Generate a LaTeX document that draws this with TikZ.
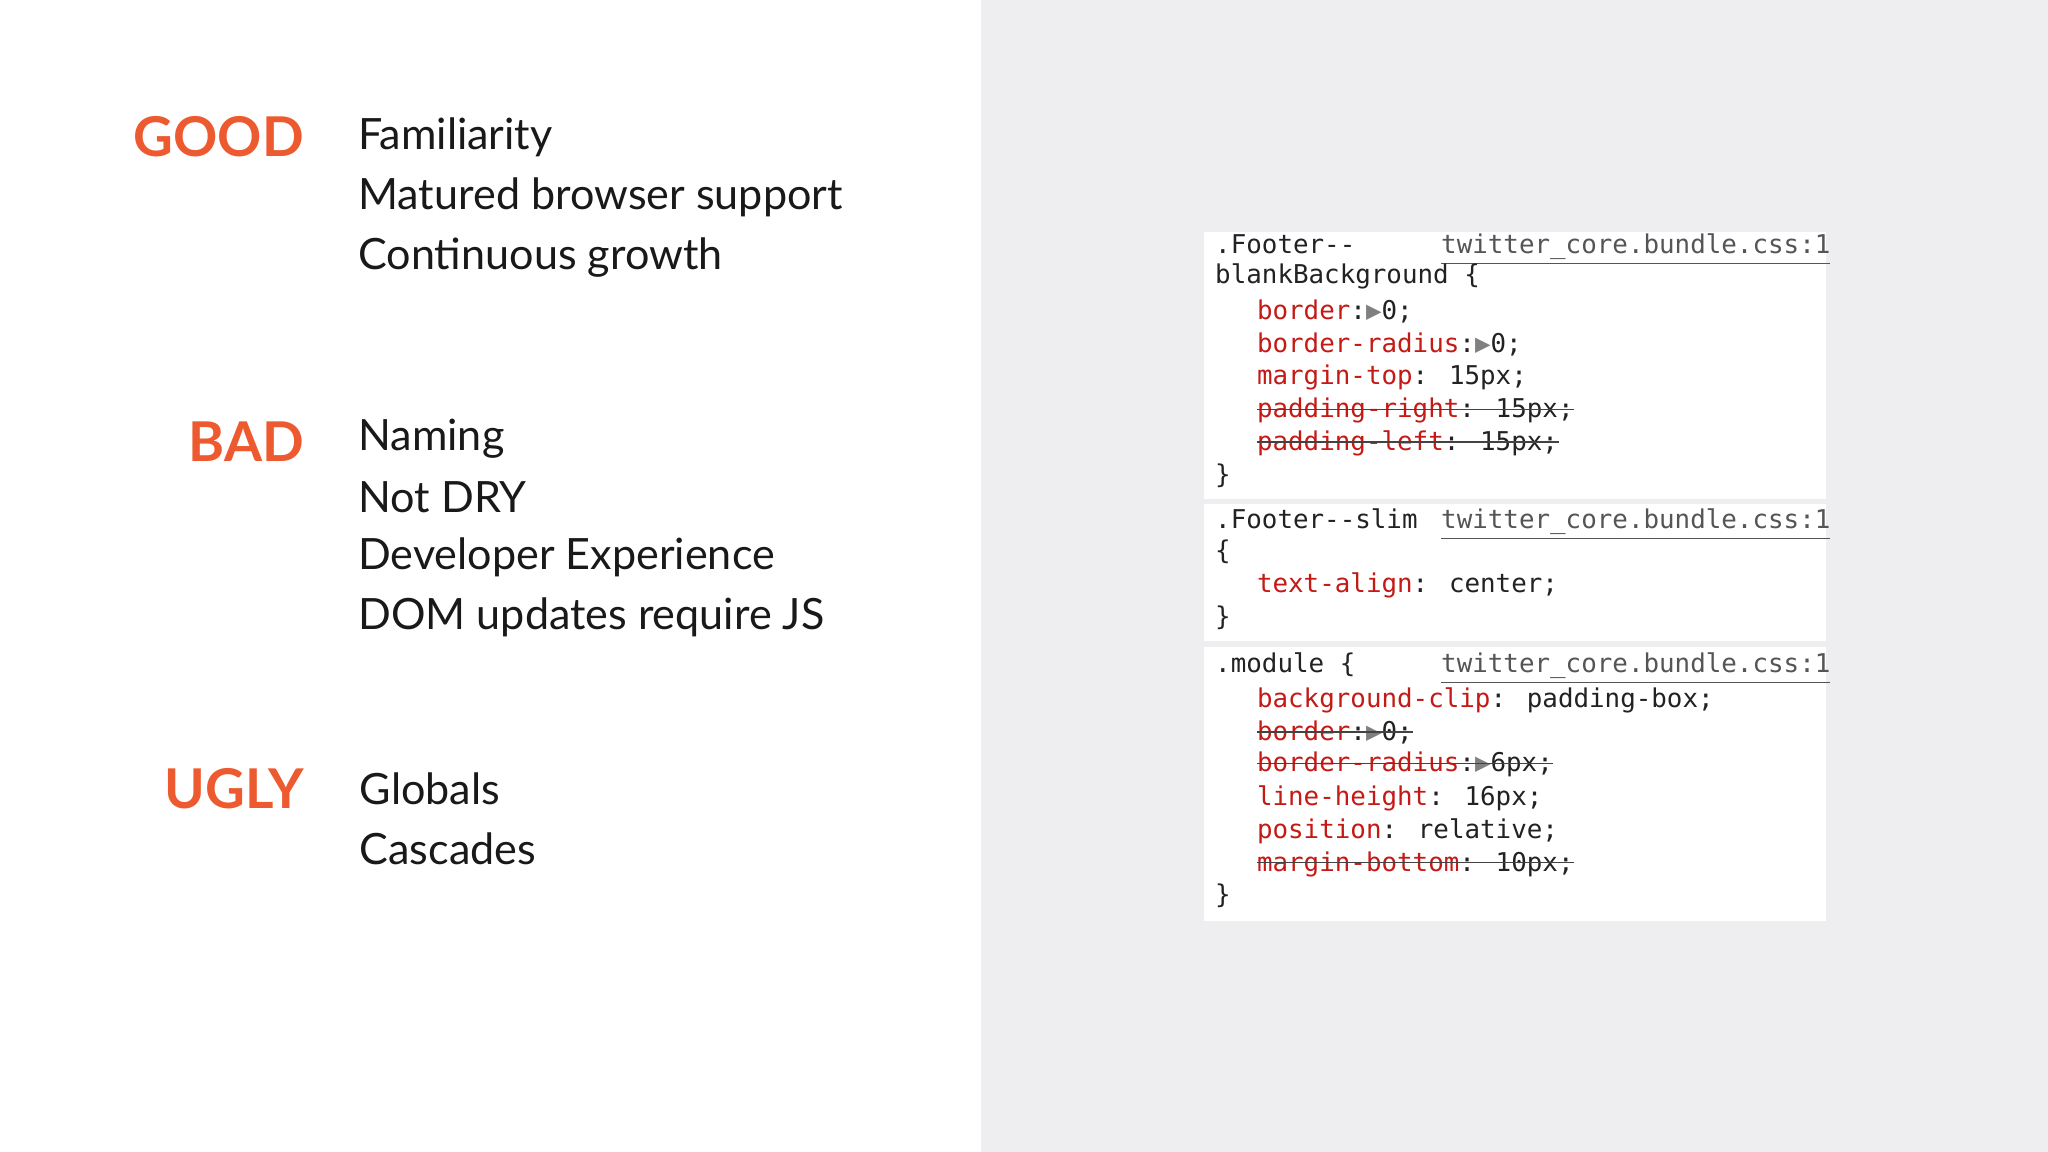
\documentclass[tikz,border=0pt]{standalone}
\usepackage{fontspec}
\setmainfont{Lato}
\newfontfamily\codefont{DejaVu Sans Mono}
\definecolor{accent}{HTML}{EE5A2F}
\definecolor{rightbg}{HTML}{EEEDEF}
\definecolor{codered}{HTML}{C41A16}
\definecolor{codetxt}{HTML}{222222}
\definecolor{linkc}{HTML}{555555}
\definecolor{tri}{HTML}{808080}
\definecolor{sep}{HTML}{E4E4E6}
\newcommand{\tri}{{\color{tri}▶}}
\newcommand{\pr}[1]{{\color{codered}#1}}
\tikzset{
  head/.style={anchor=east, font=\fontsize{21}{24}\selectfont\bfseries, text=accent, inner sep=0},
  item/.style={anchor=west, font=\fontsize{16.5}{20}\selectfont, text=black!90, inner sep=0},
  code/.style={anchor=base west, font=\codefont\fontsize{9.9}{12}\selectfont, text=codetxt, inner sep=0},
  link/.style={code, text=linkc},
  strike/.style={draw=codetxt!85, line width=0.6pt},
  panel/.style={fill=white, draw=none}
}
\begin{document}
\begin{tikzpicture}[x=0.5pt,y=-0.5pt]
\useasboundingbox (0,0) rectangle (1568,882);
\fill[white] (0,0) rectangle (751,882);
\fill[rightbg] (751,0) rectangle (1568,882);
% left text
\node[head] (good) at (233,105) {GOOD};
\node[item] (g1) at (274,105) {Familiarity};
\node[item] (g2) at (274,151) {Matured browser support};
\node[item] (g3) at (274,197) {Continuous growth};
\node[head] (bad) at (233,338) {BAD};
\node[item] (b1) at (274,336) {Naming};
\node[item] (b2) at (274,381) {Not DRY};
\node[item] (b3) at (274,427) {Developer Experience};
\node[item] (b4) at (274,473) {DOM updates require JS};
\node[head] (ugly) at (233,604) {UGLY};
\node[item] (u1) at (275,604) {Globals};
\node[item] (u2) at (275,650) {Cascades};
% code panels
\fill[panel] (922,178) rectangle (1398,382);
\fill[panel] (922,386) rectangle (1398,491);
\fill[panel] (922,495) rectangle (1398,705);
\def\ix{930}\def\iy{962}
\node[code] (c1) at (930,194) {.Footer--};
\node[link] (l1) at (1103,194) {\underline{twitter\_core.bundle.css:1}};
\node[code] (c2) at (930,217) {blankBackground \{};
\node[code] (c3) at (962,245) {\pr{border}:\tri0;};
\node[code] (c4) at (962,270) {\pr{border-radius}:\tri0;};
\node[code] (c5) at (962,294) {\pr{margin-top}: 15px;};
\node[code] (c6) at (962,320) {\pr{padding-right}: 15px;};
\node[code] (c7) at (962,345) {\pr{padding-left}: 15px;};
\node[code] (c8) at (930,370) {\}};
\node[code] (d1) at (930,405) {.Footer--slim};
\node[link] (l2) at (1103,405) {\underline{twitter\_core.bundle.css:1}};
\node[code] (d2) at (930,428) {\{};
\node[code] (d3) at (962,454) {\pr{text-align}: center;};
\node[code] (d4) at (930,479) {\}};
\node[code] (e1) at (930,515) {.module \{};
\node[link] (l3) at (1103,515) {\underline{twitter\_core.bundle.css:1}};
\node[code] (e2) at (962,542) {\pr{background-clip}: padding-box;};
\node[code] (e3) at (962,567) {\pr{border}:\tri0;};
\node[code] (e4) at (962,591) {\pr{border-radius}:\tri6px;};
\node[code] (e5) at (962,617) {\pr{line-height}: 16px;};
\node[code] (e6) at (962,642) {\pr{position}: relative;};
\node[code] (e7) at (962,667) {\pr{margin-bottom}: 10px;};
\node[code] (e8) at (930,692) {\}};
\foreach \n in {c6,c7,e3,e4,e7}{
  \draw[strike] ([yshift=3.3pt]\n.base west) -- ([yshift=3.3pt]\n.base east);
}
\end{tikzpicture}
\end{document}
